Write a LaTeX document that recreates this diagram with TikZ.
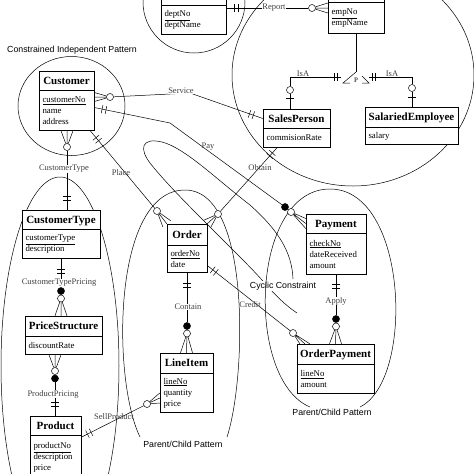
\documentclass[tikz,border=0pt]{standalone}
\usepackage{fontspec}
\setmainfont{Liberation Serif}
\setsansfont{Liberation Sans}
\usetikzlibrary{positioning,calc}

\newcommand{\onebar}[3]{\draw ($(#1)!#3!(#2)!4pt!90:(#2)$) -- ($(#1)!#3!(#2)!4pt!-90:(#2)$);}
\newcommand{\crowfoot}[3]{\draw (#1) -- ($(#2)+(#3)$) (#1) -- (#2) (#1) -- ($(#2)-(#3)$);}

\tikzset{
  entity/.style={draw, fill=white, font=\fontsize{11}{13}\selectfont\bfseries,
    text height=7.5pt, text depth=0pt, minimum height=19pt, inner xsep=1pt},
  attrs/.style={draw, fill=white, font=\fontsize{8.8}{11}\selectfont, align=left,
    inner xsep=3.5pt, inner ysep=2pt, below=0pt of #1},
  rel/.style={font=\fontsize{8.5}{10}\selectfont, text=black!75, inner sep=0.5pt},
  onlink/.style={rel, fill=white},
  patt/.style={font=\sffamily\fontsize{8.8}{10}\selectfont, inner sep=1pt},
  opt/.style={circle, draw, fill=white, inner sep=0pt, minimum size=7pt},
  must/.style={circle, draw, fill=black, inner sep=0pt, minimum size=7pt}
}

\begin{document}
\begin{tikzpicture}[x=1pt, y=-1pt, line width=0.5pt]
\path[fill=white, use as bounding box] (0,0) rectangle (474,474);
\clip (0,0) rectangle (474,474);

\draw (293,279) .. controls (292,252) and (278,230) .. (250,205)
  .. controls (215,178) and (185,148) .. (162,142)
  .. controls (140,137) and (140,150) .. (150,163)
  .. controls (175,195) and (235,250) .. (262,280)
  .. controls (275,295) and (285,305) .. (297,313);
\node[patt, fill=white] (cyclic) at (283,286) {Cyclic Constraint};

\draw (194,2) circle [radius=51pt];
\draw (353,75) ellipse [x radius=121pt, y radius=111pt];
\draw (71.5,106) ellipse [x radius=53.5pt, y radius=49.5pt];
\draw (60,366) ellipse [x radius=59pt, y radius=189pt];
\draw (140,437) .. controls (112,380) and (112,190) .. (185,190)
  .. controls (252,190) and (246,380) .. (227,437);
\draw (310,407) .. controls (245,380) and (250,189) .. (330,189)
  .. controls (408,189) and (415,380) .. (360,407);

\node[patt] (cip) at (72,50) {Constrained Independent Pattern};
\node[patt] (pcp1) at (183,444) {Parent/Child Pattern};
\node[patt] (pcp2) at (332,412) {Parent/Child Pattern};

\node[entity, minimum width=65pt] (dept) at (193.5,-4.5) {};
\node[attrs=dept, text width=58pt, minimum height=29pt] (dept-at) {\underline{deptNo}\\deptName};
\node[entity, minimum width=56pt] (emp) at (356,-7.5) {};
\node[attrs=emp, text width=49pt, minimum height=31pt] (emp-at) {\underline{empNo}\\empName};
\node[entity, minimum width=55pt] (cust) at (66.5,80.5) {Customer};
\node[attrs=cust, text width=48pt, minimum height=40pt] (cust-at) {\underline{customerNo}\\name\\address};
\node[entity, minimum width=67pt] (sales) at (296.5,118.5) {SalesPerson};
\node[attrs=sales, text width=60pt, minimum height=19pt] (sales-at) {commisionRate};
\node[entity, minimum width=93pt, minimum height=20pt] (salaried) at (411.5,117) {SalariedEmployee};
\node[attrs=salaried, text width=86pt, minimum height=17pt] (salaried-at) {salary};
\node[entity, minimum width=78pt] (ctype) at (61,219.5) {CustomerType};
\node[attrs=ctype, text width=71pt, minimum height=29pt] (ctype-at) {\underline{customerType}\\description};
\node[entity, minimum width=40pt, minimum height=21pt] (order) at (187,234.5) {Order};
\node[attrs=order, text width=33pt, minimum height=27pt] (order-at) {\underline{orderNo}\\date};
\node[entity, minimum width=60pt] (payment) at (336,223.5) {Payment};
\node[attrs=payment, text width=53pt, minimum height=41pt] (payment-at) {\underline{checkNo}\\dateReceived\\amount};
\node[entity, minimum width=77pt, minimum height=20pt] (price) at (63.5,326) {PriceStructure};
\node[attrs=price, text width=70pt, minimum height=18pt] (price-at) {discountRate};
\node[entity, minimum width=51pt] (product) at (55.5,425.5) {Product};
\node[attrs=product, text width=44pt, minimum height=44pt] (product-at) {\underline{productNo}\\description\\price};
\node[entity, minimum width=53pt, minimum height=20pt] (lineitem) at (186.5,363) {LineItem};
\node[attrs=lineitem, text width=46pt, minimum height=39pt] (lineitem-at) {\underline{lineNo}\\quantity\\price};
\node[entity, minimum width=77pt, minimum height=20pt] (opay) at (335.5,354) {OrderPayment};
\node[attrs=opay, text width=70pt, minimum height=29pt] (opay-at) {\underline{lineNo}\\amount};

\node[opt] (rep-o) at (312,8) {};
\node[opt] (isal-o) at (290,90) {};
\node[opt] (isar-o) at (412,88) {};
\node[opt] (svc-o) at (110,97) {};
\node[must] (pay-d) at (285,207) {};
\node[opt] (pay-o) at (291,212) {};
\node[opt] (place-o) at (157,211) {};
\node[opt] (obt-o) at (218,214) {};
\node[opt] (ct-o) at (67,147) {};
\node[must] (ctp-d) at (61,291) {};
\node[opt] (ctp-o) at (61,298.5) {};
\node[opt] (pp-o) at (55,371) {};
\node[must] (pp-d) at (55,378.5) {};
\node[opt] (sell-o) at (147,404) {};
\node[must] (con-d) at (187,326) {};
\node[opt] (con-o) at (187,333.5) {};
\node[must] (app-d) at (336,319) {};
\node[opt] (app-o) at (336,326.5) {};
\node[opt] (cred-o) at (293,333) {};

\coordinate (rep-s) at (dept-at.east |- rep-o);
\coordinate (rep-t) at (emp-at.west |- rep-o);
\coordinate (isa-p) at (356,72);
\coordinate (isal-e) at (341,77);
\coordinate (isal-c) at (290,77);
\coordinate (isar-e) at (369,77);
\coordinate (isar-c) at (412,77);
\coordinate (isal-t) at (isal-o |- sales.north);
\coordinate (isar-t) at (isar-o |- salaried.north);
\coordinate (svc-t) at (cust-at.east |- svc-o);
\coordinate (svc-b) at (190,93);
\coordinate (pay-s) at ([yshift=3pt]cust-at.east);
\coordinate (pay-b) at (170,123);
\coordinate (place-s) at ([xshift=-4pt]cust-at.south east);
\coordinate (obt-s) at ([xshift=-19.5pt]sales-at.south);
\coordinate (ct-t) at (ct-o |- cust-at.south);
\coordinate (ct-e) at (ct-o |- ctype.north);
\coordinate (ctp-s) at (ctp-d |- ctype-at.south);
\coordinate (ctp-t) at (ctp-o |- price.north);
\coordinate (pp-t) at (pp-o |- price-at.south);
\coordinate (pp-e) at (pp-d |- product.north);
\coordinate (sell-s) at ([yshift=-2pt]product-at.north east);
\coordinate (sell-t) at ([yshift=-5pt]lineitem-at.west);
\coordinate (cred-s) at ([yshift=-6.5pt]order-at.east);
\coordinate (cred-t) at ([xshift=8pt]opay.north west);

\draw (rep-s) -- (rep-o);
\onebar{rep-s}{rep-o}{8pt} \onebar{rep-s}{rep-o}{12pt}
\crowfoot{rep-o}{rep-t}{0,5}

\draw (emp-at.south) -- (isa-p);
\draw (isa-p) -- +(-13,11) -- +(-6,11);
\draw (isa-p) ++(6,4) -- +(7,7) -- +(0,7);
\node[font=\fontsize{7}{8}\selectfont, inner sep=0pt] (isa-l) at ([yshift=-8pt]isa-p) {P};
\draw (isal-e) -- (isal-c) -- (isal-o) (isal-o) -- (isal-t);
\onebar{isal-e}{isal-c}{4pt} \onebar{isal-e}{isal-c}{7pt}
\onebar{isal-t}{isal-o}{11pt}
\draw (isar-e) -- (isar-c) -- (isar-o) (isar-o) -- (isar-t);
\onebar{isar-e}{isar-c}{3pt} \onebar{isar-e}{isar-c}{6pt}
\onebar{isar-t}{isar-o}{10pt}

\draw (svc-o) -- (svc-b) -- (sales.west);
\crowfoot{svc-o}{svc-t}{0,4.5}
\onebar{sales.west}{svc-b}{10pt} \onebar{sales.west}{svc-b}{14pt}

\draw (pay-s) -- (pay-b) -- (pay-d) -- (pay-o);
\onebar{pay-s}{pay-b}{8pt} \onebar{pay-s}{pay-b}{12pt}
\crowfoot{pay-o}{payment.west}{0,5}

\draw (place-s) -- (place-o);
\onebar{place-s}{place-o}{9pt} \onebar{place-s}{place-o}{13pt}
\crowfoot{place-o}{order.north west}{4,-3}

\draw (obt-s) -- (obt-o);
\onebar{obt-s}{obt-o}{7pt} \onebar{obt-s}{obt-o}{11pt}
\crowfoot{obt-o}{order.north east}{3.5,3.5}

\draw (ct-o) -- (ct-e);
\onebar{ct-e}{ct-o}{10pt} \onebar{ct-e}{ct-o}{14pt}
\crowfoot{ct-o}{ct-t}{6,0}

\draw (ctp-s) -- (ctp-d) -- (ctp-o);
\onebar{ctp-s}{ctp-d}{10pt} \onebar{ctp-s}{ctp-d}{14pt}
\crowfoot{ctp-o}{ctp-t}{6,0}

\draw (pp-o) -- (pp-d) -- (pp-e);
\onebar{pp-e}{pp-d}{10pt} \onebar{pp-e}{pp-d}{14pt}
\crowfoot{pp-o}{pp-t}{6,0}

\draw (sell-s) -- (sell-o);
\onebar{sell-s}{sell-o}{7pt} \onebar{sell-s}{sell-o}{11pt}
\crowfoot{sell-o}{sell-t}{0,5}

\draw (order-at.south) -- (con-d) -- (con-o);
\onebar{order-at.south}{con-d}{10pt} \onebar{order-at.south}{con-d}{14pt}
\crowfoot{con-o}{lineitem.north}{6,0}

\draw (payment-at.south) -- (app-d) -- (app-o);
\onebar{payment-at.south}{app-d}{9pt} \onebar{payment-at.south}{app-d}{13pt}
\crowfoot{app-o}{opay.north}{6,0}

\draw (cred-s) -- (cred-o);
\onebar{cred-s}{cred-o}{7pt} \onebar{cred-s}{cred-o}{11pt}
\crowfoot{cred-o}{cred-t}{5,0}

\node[onlink] (l-report) at (274,8) {Report};
\node[rel] (l-isa1) at (303,73.5) {IsA};
\node[rel] (l-isa2) at (392,73.5) {IsA};
\node[onlink] (l-service) at (181,91) {Service};
\node[rel] (l-pay) at (208,147) {Pay};
\node[rel] (l-place) at (121,173) {Place};
\node[rel] (l-obtain) at (260,168) {Obtain};
\node[onlink] (l-ctype) at (64,169) {CustomerType};
\node[onlink] (l-ctp) at (59,283) {CustomerTypePricing};
\node[onlink] (l-pp) at (53,394) {ProductPricing};
\node[rel] (l-sell) at (114,417) {SellProduct};
\node[onlink] (l-contain) at (188,307) {Contain};
\node[onlink] (l-apply) at (336,301) {Apply};
\node[rel] (l-credit) at (250,305) {Credit};
\end{tikzpicture}
\end{document}
